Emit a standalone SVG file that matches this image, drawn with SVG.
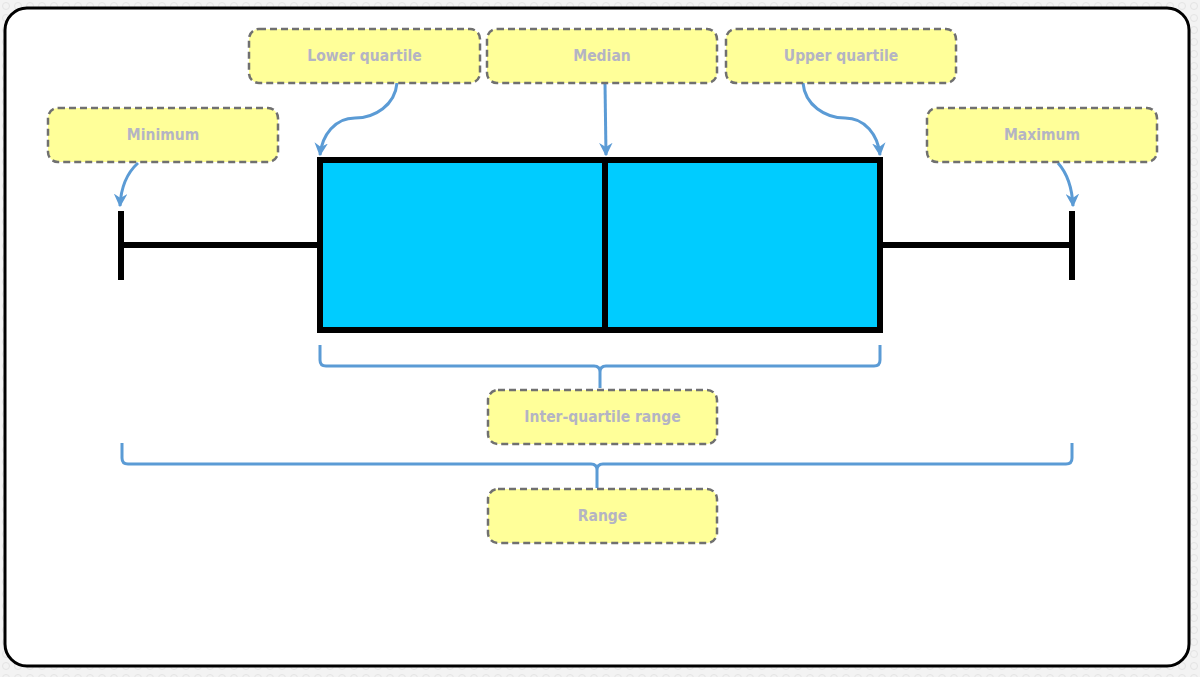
<svg xmlns="http://www.w3.org/2000/svg" width="1200" height="677" viewBox="0 0 1200 677">
<defs>
<pattern id="bg" width="12" height="12" patternUnits="userSpaceOnUse">
<rect width="12" height="12" fill="#f3f3f3"/>
<circle cx="6" cy="6" r="3.5" fill="none" stroke="#e4e4e4" stroke-width="1"/>
</pattern>
<marker id="arr" viewBox="0 0 10 10" refX="9" refY="5" markerWidth="4.5" markerHeight="4.5" orient="auto" markerUnits="strokeWidth">
<path d="M0,0 L10,5 L0,10 L3,5 Z" fill="#5b9bd5"/>
</marker>
</defs>
<style>
.lbl rect{fill:#ffff99;stroke:#707070;stroke-width:2.5;stroke-dasharray:7 4}
.lbl text{font-family:"DejaVu Sans Condensed","DejaVu Sans",sans-serif;font-weight:bold;font-size:15.5px;fill:#b4b4c4;text-anchor:middle}
.con{fill:none;stroke:#5b9bd5;stroke-width:3;marker-end:url(#arr)}
.brace{fill:none;stroke:#5b9bd5;stroke-width:3}
.blk{stroke:#000;fill:none;stroke-width:6}
</style>
<rect width="1200" height="677" fill="url(#bg)"/>
<rect x="5" y="8" width="1184" height="658" rx="22" fill="#fff" stroke="#000" stroke-width="3"/>

<g id="boxplot">
<line class="blk" x1="121" y1="211" x2="121" y2="280"/>
<line class="blk" x1="121" y1="245" x2="320" y2="245" stroke-width="5"/>
<line class="blk" x1="1072" y1="211" x2="1072" y2="280"/>
<line class="blk" x1="880" y1="245" x2="1072" y2="245" stroke-width="5"/>
<rect x="320" y="160" width="560" height="170" fill="#00ccff" stroke="#000" stroke-width="6"/>
<line class="blk" x1="605" y1="160" x2="605" y2="330" stroke-width="5"/>
</g>

<g id="connectors">
<path class="con" d="M397,83 C395,105 375,118 355,118 C335,118 322,135 320,155"/>
<path class="con" d="M605,83 L606,155"/>
<path class="con" d="M803,83 C805,105 825,118 845,118 C865,118 878,135 880,155"/>
<path class="con" d="M138,163 C128,172 121,185 120,206"/>
<path class="con" d="M1058,163 C1066,172 1072,185 1073,206"/>
<path class="brace" d="M320,345 L320,360 Q320,366 326,366 L594,366 Q600,366 600,372 L600,388 M600,372 Q600,366 606,366 L874,366 Q880,366 880,360 L880,345"/>
<path class="brace" d="M122,443 L122,458 Q122,464 128,464 L591,464 Q597,464 597,470 L597,488 M597,470 Q597,464 603,464 L1066,464 Q1072,464 1072,458 L1072,443"/>
</g>

<g id="lower-quartile" class="lbl"><rect x="249" y="29" width="231" height="54" rx="10"/><text x="364.5" y="61">Lower quartile</text></g>
<g id="median" class="lbl"><rect x="487" y="29" width="230" height="54" rx="10"/><text x="602" y="61">Median</text></g>
<g id="upper-quartile" class="lbl"><rect x="726" y="29" width="230" height="54" rx="10"/><text x="841" y="61">Upper quartile</text></g>
<g id="minimum" class="lbl"><rect x="48" y="108" width="230" height="54" rx="10"/><text x="163" y="140">Minimum</text></g>
<g id="maximum" class="lbl"><rect x="927" y="108" width="230" height="54" rx="10"/><text x="1042" y="140">Maximum</text></g>
<g id="iqr" class="lbl"><rect x="488" y="390" width="229" height="54" rx="10"/><text x="602.5" y="422">Inter-quartile range</text></g>
<g id="range" class="lbl"><rect x="488" y="489" width="229" height="54" rx="10"/><text x="602.5" y="521">Range</text></g>
</svg>
